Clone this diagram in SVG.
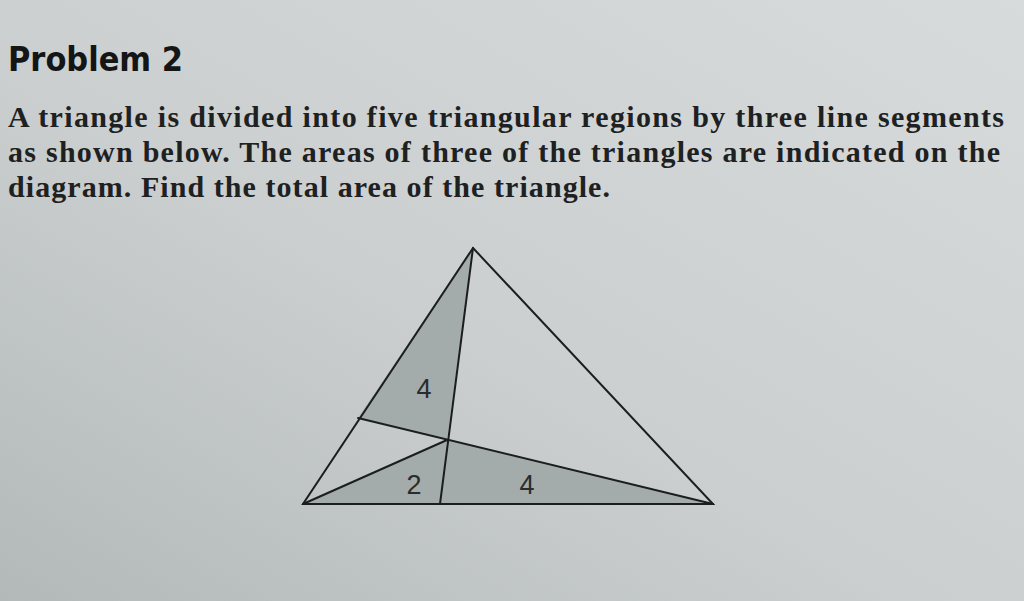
<svg xmlns="http://www.w3.org/2000/svg" width="1024" height="601" viewBox="0 0 1024 601">
  <defs>
    <linearGradient id="bg" x1="1" y1="0" x2="0" y2="1">
      <stop offset="0" stop-color="#d8dbdb"/>
      <stop offset="0.55" stop-color="#cbcfcf"/>
      <stop offset="1" stop-color="#b3b9b9"/>
    </linearGradient>
    <style>
      .title { font-family: "DejaVu Sans", "Liberation Sans", sans-serif; font-size: 33px; font-weight: 600; fill: #141616; }
      .body { font-family: "Liberation Serif", "DejaVu Serif", serif; font-size: 30px; fill: #1e2121; font-weight: bold; }
      .shade { fill: #a4abab; stroke: none; }
      .edge { stroke: #1c1e1e; stroke-width: 2; fill: none; stroke-linecap: round; }
      .lbl { font-family: "Liberation Sans", "DejaVu Sans", sans-serif; font-size: 27px; fill: #2a2d2d; text-anchor: middle; }
    </style>
  </defs>
  <rect x="0" y="0" width="1024" height="601" fill="url(#bg)"/>

  <g id="heading">
    <text class="title" x="8" y="71" textLength="175" lengthAdjust="spacingAndGlyphs">Problem 2</text>
  </g>
  <g id="problem-text">
    <text class="body" x="8" y="127" textLength="996" lengthAdjust="spacing">A triangle is divided into five triangular regions by three line segments</text>
    <text class="body" x="8" y="162" textLength="992" lengthAdjust="spacing">as shown below. The areas of three of the triangles are indicated on the</text>
    <text class="body" x="8" y="197" textLength="602" lengthAdjust="spacing">diagram. Find the total area of the triangle.</text>
  </g>

  <g id="regions">
    <polygon id="region-top-left" class="shade" points="473,248 358,418 447,440"/>
    <polygon id="region-bottom-left" class="shade" points="303,504 447,440 440,504"/>
    <polygon id="region-bottom-right" class="shade" points="440,504 447,440 713,504"/>
  </g>

  <g id="connectors">
    <polygon class="edge" points="473,248 713,504 303,504"/>
    <line class="edge" x1="473" y1="248" x2="440" y2="504"/>
    <line class="edge" x1="713" y1="504" x2="358" y2="418"/>
    <line class="edge" x1="303" y1="504" x2="447" y2="440"/>
  </g>

  <g id="labels">
    <text class="lbl" x="424" y="398">4</text>
    <text class="lbl" x="414" y="494">2</text>
    <text class="lbl" x="527" y="494">4</text>
  </g>
</svg>
